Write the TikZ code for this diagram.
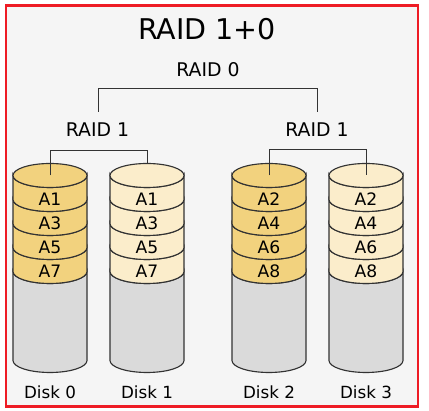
\documentclass[tikz,border=0pt]{standalone}
\usepackage{fontspec}
\setmainfont{DejaVu Sans}
\usetikzlibrary{calc}
\definecolor{framered}{HTML}{EE1C25}
\definecolor{panelbg}{HTML}{F5F5F5}
\definecolor{blockdark}{HTML}{F2D27E}
\definecolor{blocklight}{HTML}{FBEDCB}
\definecolor{diskgray}{HTML}{DADADA}
\definecolor{edgegray}{HTML}{333333}
\tikzset{
	diskedge/.style={draw=edgegray, line width=0.8pt},
	wire/.style={draw=edgegray, line width=0.7pt},
	titletext/.style={font=\fontsize{20.3}{24}\selectfont},
	raidtext/.style={font=\fontsize{13.4}{16}\selectfont},
	blocktext/.style={font=\fontsize{12.2}{14}\selectfont},
	disktext/.style={font=\fontsize{11.9}{14}\selectfont}
}

\begin{document}
\begin{tikzpicture}[x=0.025cm, y=-0.025cm]
		%%%%% FRAME %%%%%
		\fill[white] (0,0) rectangle (429,411);
		\draw[framered, line width=1.8pt, fill=panelbg] (6,5.5) rectangle (418,406.5);
		
		\node[titletext] (title) at (207,29) {RAID 1+0};
		\node[raidtext] (raid0) at (208,70) {RAID 0};
		\node[raidtext] (raid1a) at (97.5,130) {RAID 1};
		\node[raidtext] (raid1b) at (317,130) {RAID 1};
		
		%%%%% DISKS %%%%%
		\foreach \x/\fillc/\n/\first in {50/blockdark/0/1, 147/blocklight/1/1, 269/blockdark/2/2, 366/blocklight/3/2} {
			\draw[diskedge, fill=diskgray] (\x-37,271.5) -- (\x-37,360.5) arc (180:0:37 and 12) -- (\x+37,271.5) arc (0:180:37 and 12) -- cycle;
			\foreach \k in {3,2,1,0} {
				\pgfmathsetmacro\yt{175.5+24*\k}
				\pgfmathsetmacro\yb{\yt+24}
				\pgfmathtruncatemacro\blk{\first+2*\k}
				\draw[diskedge, fill=\fillc] (\x-37,\yt) -- (\x-37,\yb) arc (180:0:37 and 12) -- (\x+37,\yt) arc (0:180:37 and 12) -- cycle;
				\node[blocktext] (a\n\k) at (\x,\yb) {A\blk};
			}
			\draw[diskedge, fill=\fillc] (\x,175.5) ellipse (37 and 12);
			\coordinate (top\n) at (\x,175.5);
			\coordinate (cap\n) at (\x,163.5);
			\node[disktext] (disk\n) at (\x,392) {Disk \n};
		}
		
		%%%%% LINKS %%%%%
		\coordinate (r0l) at (98,112);
		\coordinate (r0r) at (317,112);
		\draw[wire] (r0l) -- ++(0,-24) -| (r0r);
		\draw[wire] (top0) -- ++(0,-25.5) -| (cap1);
		\draw[wire] (top2) -- ++(0,-26.5) -| (top3);
	\end{tikzpicture}
\end{document}
